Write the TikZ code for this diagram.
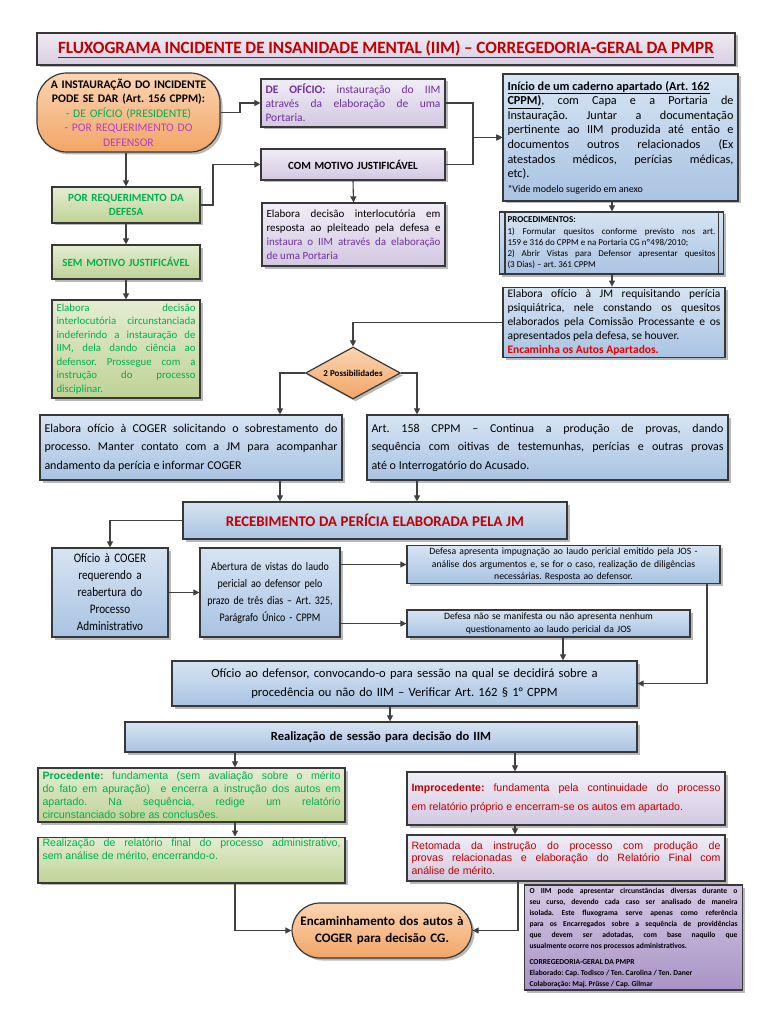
\documentclass[tikz,border=0pt]{standalone}
\usepackage{fontspec}
\setmainfont{Carlito}
\newfontfamily\arialf{Liberation Sans}
\newfontfamily\condf{Carlito}[FakeStretch=0.86]
\hyphenpenalty=10000
\exhyphenpenalty=10000
\frenchspacing
\usetikzlibrary{shapes.geometric,shapes.misc,shadows,arrows.meta}
\definecolor{bord}{HTML}{383838}
\definecolor{blueT}{HTML}{D6E4F3}
\definecolor{blueB}{HTML}{A9C3E2}
\definecolor{lavT}{HTML}{F1EDF7}
\definecolor{lavB}{HTML}{D2C8E0}
\definecolor{grnT}{HTML}{E4EDD1}
\definecolor{grnB}{HTML}{BFD296}
\definecolor{orgT}{HTML}{FBD5B2}
\definecolor{orgB}{HTML}{F2A567}
\definecolor{purT}{HTML}{D3C8E3}
\definecolor{purB}{HTML}{A893C6}
\definecolor{ttlT}{HTML}{F0EAF3}
\definecolor{ttlB}{HTML}{D8CEE2}
\definecolor{ttl}{HTML}{C00000}
\definecolor{gtxt}{HTML}{00B050}
\definecolor{ptxt}{HTML}{7030A0}
\definecolor{mtxt}{HTML}{B040C0}
\definecolor{rtxt}{HTML}{E60000}
\definecolor{dtxt}{HTML}{C00000}
\definecolor{ln}{HTML}{404040}
\tikzset{
  bxbase/.style={draw=bord, line width=1.2pt,
    drop shadow={shadow xshift=2.5pt, shadow yshift=-2.5pt, fill=black!50, opacity=.55},
    inner xsep=4.5pt, inner ysep=2pt, align=justify,
    font=\fontsize{11}{13.5}\selectfont},
  bluebox/.style={bxbase, top color=blueT, bottom color=blueB},
  lavbox/.style={bxbase, top color=lavT, bottom color=lavB},
  grnbox/.style={bxbase, top color=grnT, bottom color=grnB, text=gtxt},
  orgbox/.style={bxbase, top color=orgT, bottom color=orgB},
  purbox/.style={bxbase, top color=purT, bottom color=purB},
  ttlbox/.style={bxbase, top color=ttlT, bottom color=ttlB},
  ctr/.style={align=center},
  conn/.style={draw=ln, line width=1.1pt, -{Triangle[length=6pt,width=6pt]}},
  plain/.style={draw=ln, line width=1.1pt}
}
\newcommand\bx[7]{%
  \pgfmathsetmacro\bxw{#5-#3}\pgfmathsetmacro\bxh{#6-#4}%
  \pgfmathsetmacro\bxt{#5-#3-9}%
  \pgfmathsetmacro\bxcx{(#3+#5)/2}\pgfmathsetmacro\bxcy{(#4+#6)/2}%
  \node[#2, minimum width=\bxw pt, minimum height=\bxh pt, text width=\bxt pt] (#1) at (\bxcx,\bxcy) {#7};}
\begin{document}
\begin{tikzpicture}[x=1pt,y=-1pt]
\useasboundingbox[fill=white] (0,0) rectangle (768,1024);
% title
\bx{title}{ttlbox,ctr}{37}{33}{735}{65}{\fontsize{17.2}{19}\selectfont\bfseries\color{ttl}\underline{FLUXOGRAMA INCIDENTE DE INSANIDADE MENTAL (IIM) – CORREGEDORIA-GERAL DA PMPR}}
% oval
\bx{oval}{orgbox,ctr,rounded corners=30pt,inner xsep=1pt,font=\fontsize{11.6}{14.5}\selectfont}{37}{73}{220}{152}{{\bfseries A INSTAURAÇÃO DO INCIDENTE\\PODE SE DAR (Art. 156 CPPM):}\\{\color{gtxt}- DE OFÍCIO (PRESIDENTE)}\\{\color{mtxt}- POR REQUERIMENTO DO\\DEFENSOR}}
% purple column
\bx{def}{lavbox,text=ptxt,font=\fontsize{11.5}{14}\selectfont}{261}{79}{445}{127}{{\bfseries DE OFÍCIO:} instauração do IIM\linebreak através da elaboração de uma\linebreak Portaria.}
\bx{com}{lavbox,ctr}{261}{149}{445}{180}{\bfseries COM MOTIVO JUSTIFICÁVEL}
\bx{elab}{lavbox,font=\fontsize{11}{14}\selectfont}{262}{203}{445}{266}{Elabora decisão interlocutória em\linebreak resposta ao pleiteado pela defesa e\linebreak {\color{ptxt}instaura o IIM através da elaboração\linebreak de uma Portaria}}
% green column
\bx{porreq}{grnbox,ctr}{52}{187}{200}{223}{\bfseries POR REQUERIMENTO DA\\DEFESA}
\bx{sem}{grnbox,ctr}{52}{245}{200}{279}{\bfseries SEM MOTIVO JUSTIFICÁVEL}
\bx{indef}{grnbox,inner xsep=3.5pt,font=\fontsize{10.8}{13.5}\selectfont}{52}{300}{200}{398}{Elabora decisão\linebreak interlocutória circunstanciada\linebreak indeferindo a instauração de\linebreak IIM, dela dando ciência ao\linebreak defensor. Prossegue com a\linebreak instrução do processo\linebreak disciplinar.}
% blue column
\bx{blue}{bluebox,font=\fontsize{12.2}{14.6}\selectfont}{503}{74}{738}{201}{{\bfseries\underline{Início de um caderno apartado (Art. 162}\linebreak\underline{CPPM)}}, com Capa e a Portaria de\linebreak Instauração. Juntar a documentação\linebreak pertinente ao IIM produzida até então e\linebreak documentos outros relacionados (Ex\linebreak atestados médicos, perícias médicas,\linebreak etc).\\{\fontsize{10}{13}\selectfont *Vide modelo sugerido em anexo}}
\bx{proc}{bluebox,inner xsep=8pt,font=\fontsize{9}{11.2}\selectfont}{503}{212}{720}{274}{{\bfseries PROCEDIMENTOS:}\\1) Formular quesitos conforme previsto nos art.\linebreak 159 e 316 do CPPM e na Portaria CG nº498/2010;\\2) Abrir Vistas para Defensor apresentar quesitos\linebreak (3 Dias) – art. 361 CPPM}
\draw[bord, line width=1.2pt] ([xshift=6pt]proc.north west) -- ([xshift=6pt]proc.south west)
  ([xshift=-6pt]proc.north east) -- ([xshift=-6pt]proc.south east);
\bx{jm}{bluebox,font=\fontsize{11.5}{14.2}\selectfont}{503}{288}{725}{357}{Elabora ofício à JM requisitando perícia\linebreak psiquiátrica, nele constando os quesitos\linebreak elaborados pela Comissão Processante e os\linebreak apresentados pela defesa, se houver.\\{\color{rtxt}\bfseries Encaminha os Autos Apartados.}}
% diamond
\node[diamond, top color=orgT, bottom color=orgB, draw=bord, line width=1.2pt,
  drop shadow={shadow xshift=2.5pt, shadow yshift=-2.5pt, fill=black!50, opacity=.55},
  minimum width=95pt, minimum height=52pt, inner sep=0pt, aspect=1.8,
  font=\fontsize{9}{10}\selectfont\bfseries] (dia) at (353,373) {2 Possibilidades};
% two possibilities
\bx{cogl}{bluebox,font=\fontsize{12}{18.5}\selectfont}{40}{415}{342}{480}{Elabora ofício à COGER solicitando o sobrestamento do\linebreak processo. Manter contato com a JM para acompanhar\linebreak andamento da perícia e informar COGER}
\bx{cogr}{bluebox,font=\fontsize{12}{18.5}\selectfont}{367}{415}{728}{480}{Art. 158 CPPM – Continua a produção de provas, dando\linebreak sequência com oitivas de testemunhas, perícias e outras provas\linebreak até o Interrogatório do Acusado.}
\bx{rec}{bluebox,ctr}{183}{502}{567}{539}{\fontsize{14.8}{17}\selectfont\bfseries\color{dtxt}RECEBIMENTO DA PERÍCIA ELABORADA PELA JM}
\bx{ofc}{bluebox,ctr,font=\condf\fontsize{13}{17}\selectfont}{52}{548}{168}{637}{Ofício à COGER\\requerendo a\\reabertura do\\Processo\\Administrativo}
\bx{abert}{bluebox,ctr,inner xsep=0.5pt,font=\condf\fontsize{11.6}{17}\selectfont}{200}{548}{340}{637}{Abertura de vistas do laudo\\pericial ao defensor pelo\\prazo de três dias – Art. 325,\\Parágrafo Único - CPPM}
\bx{defA}{bluebox,ctr,font=\fontsize{9.7}{12.5}\selectfont}{407}{546}{720}{583}{Defesa apresenta impugnação ao laudo pericial emitido pela JOS -\\análise dos argumentos e, se for o caso, realização de diligências\\necessárias. Resposta ao defensor.}
\bx{defN}{bluebox,ctr,font=\fontsize{9.7}{12.5}\selectfont}{407}{610}{690}{637}{Defesa não se manifesta ou não apresenta nenhum\\questionamento ao laudo pericial da JOS}
\bx{ofd}{bluebox,ctr,font=\fontsize{12.6}{19}\selectfont}{172}{661}{637}{706}{Ofício ao defensor, convocando-o para sessão na qual se decidirá sobre a\\procedência ou não do IIM – Verificar Art. 162 § 1° CPPM}
\bx{real}{bluebox,ctr,font=\fontsize{12.5}{14}\selectfont\bfseries}{125}{722}{637}{752}{Realização de sessão para decisão do IIM}
% outcomes
\bx{procd}{grnbox,font=\arialf\fontsize{10.6}{12.8}\selectfont}{38}{768}{345}{822}{{\bfseries Procedente:} fundamenta (sem avaliação sobre o mérito\linebreak do fato em apuração)\ \ e encerra a instrução dos autos em\linebreak apartado. Na sequência, redige um relatório\linebreak circunstanciado sobre as conclusões.}
\bx{fin}{grnbox,font=\arialf\fontsize{10.6}{13}\selectfont}{38}{838}{345}{882}{Realização de relatório final do processo administrativo,\linebreak sem análise de mérito, encerrando-o.\\[8pt]}
\bx{improc}{lavbox,text=dtxt,font=\arialf\fontsize{10.6}{19}\selectfont}{407}{772}{725}{825}{{\bfseries Improcedente:} fundamenta pela continuidade do processo\linebreak em relatório próprio e encerram-se os autos em apartado.}
\bx{ret}{lavbox,text=dtxt,font=\arialf\fontsize{10.6}{12.6}\selectfont}{407}{835}{725}{881}{Retomada da instrução do processo com produção de\linebreak provas relacionadas e elaboração do Relatório Final com\linebreak análise de mérito.}
\bx{enc}{orgbox,ctr,rounded corners=28pt,font=\fontsize{13}{17}\selectfont\bfseries}{292}{903}{472}{958}{Encaminhamento dos autos à\\COGER para decisão CG.}
\bx{note}{purbox,inner xsep=5pt,font=\fontsize{7.6}{11}\selectfont\bfseries}{525}{885}{742}{990}{O IIM pode apresentar circunstâncias diversas durante o\linebreak seu curso, devendo cada caso ser analisado de maneira\linebreak isolada. Este fluxograma serve apenas como referência\linebreak para os Encarregados sobre a sequência de providências\linebreak que devem ser adotadas, com base naquilo que\linebreak usualmente ocorre nos processos administrativos.\\[5pt]CORREGEDORIA-GERAL DA PMPR\\Elaborado: Cap. Todisco / Ten. Carolina / Ten. Daner\\Colaboração: Maj. Prüsse / Cap. Gilmar}
% helper coordinates
\coordinate (xa) at (240,0);
\coordinate (xb) at (473,0);
\coordinate (xc) at (213,0);
\coordinate (dl) at (280,0);
\coordinate (dr) at (417,0);
\coordinate (xn) at (563,0);
\coordinate (xm) at (707,0);
\coordinate (xo) at (390,0);
\coordinate (xp) at (235,0);
\coordinate (xq) at (515,0);
\coordinate (xr) at (518,0);
\coordinate (xs) at (612,0);
% connectors
\draw[conn] (oval.east) -| (xa |- def.west) -- (def.west);
\draw[conn] (def.east) -| (xb |- blue.west) -- (blue.west);
\draw[conn] (com.east) -| (xb |- blue.west) -- (blue.west);
\draw[conn] (porreq.north |- oval.south) -- (porreq.north);
\draw[conn] (porreq.east) -| (xc |- com.west) -- (com.west);
\draw[conn] (com.south) -- (elab.north);
\draw[conn] (porreq.south) -- (sem.north);
\draw[conn] (sem.south) -- (indef.north);
\draw[conn] (xs |- blue.south) -- (xs |- proc.north);
\draw[conn] (xs |- proc.south) -- (xs |- jm.north);
\draw[conn] (jm.west) -| (dia.north);
\draw[conn] (dia.west) -| (dl |- cogl.north);
\draw[conn] (dia.east) -| (dr |- cogr.north);
\draw[conn] (dl |- cogl.south) -- (dl |- rec.north);
\draw[conn] (dr |- cogr.south) -- (dr |- rec.north);
\draw[conn] (rec.west) -| (ofc.north);
\draw[conn] (ofc.east) -- (abert.west |- ofc.east);
\draw[conn] (abert.east |- defA.west) -- (defA.west);
\draw[conn] (abert.east |- defN.west) -- (defN.west);
\draw[conn] (xn |- defN.south) -- (xn |- ofd.north);
\draw[conn] (xm |- defA.south) |- (ofd.east);
\draw[conn] (xo |- ofd.south) -- (xo |- real.north);
\draw[conn] (xp |- real.south) -- (xp |- procd.north);
\draw[conn] (xq |- real.south) -- (xq |- improc.north);
\draw[conn] (xp |- procd.south) -- (xp |- fin.north);
\draw[conn] (xq |- improc.south) -- (xq |- ret.north);
\draw[conn] (xp |- fin.south) |- (enc.west);
\draw[conn] (xr |- ret.south) |- (enc.east);
\end{tikzpicture}
\end{document}
